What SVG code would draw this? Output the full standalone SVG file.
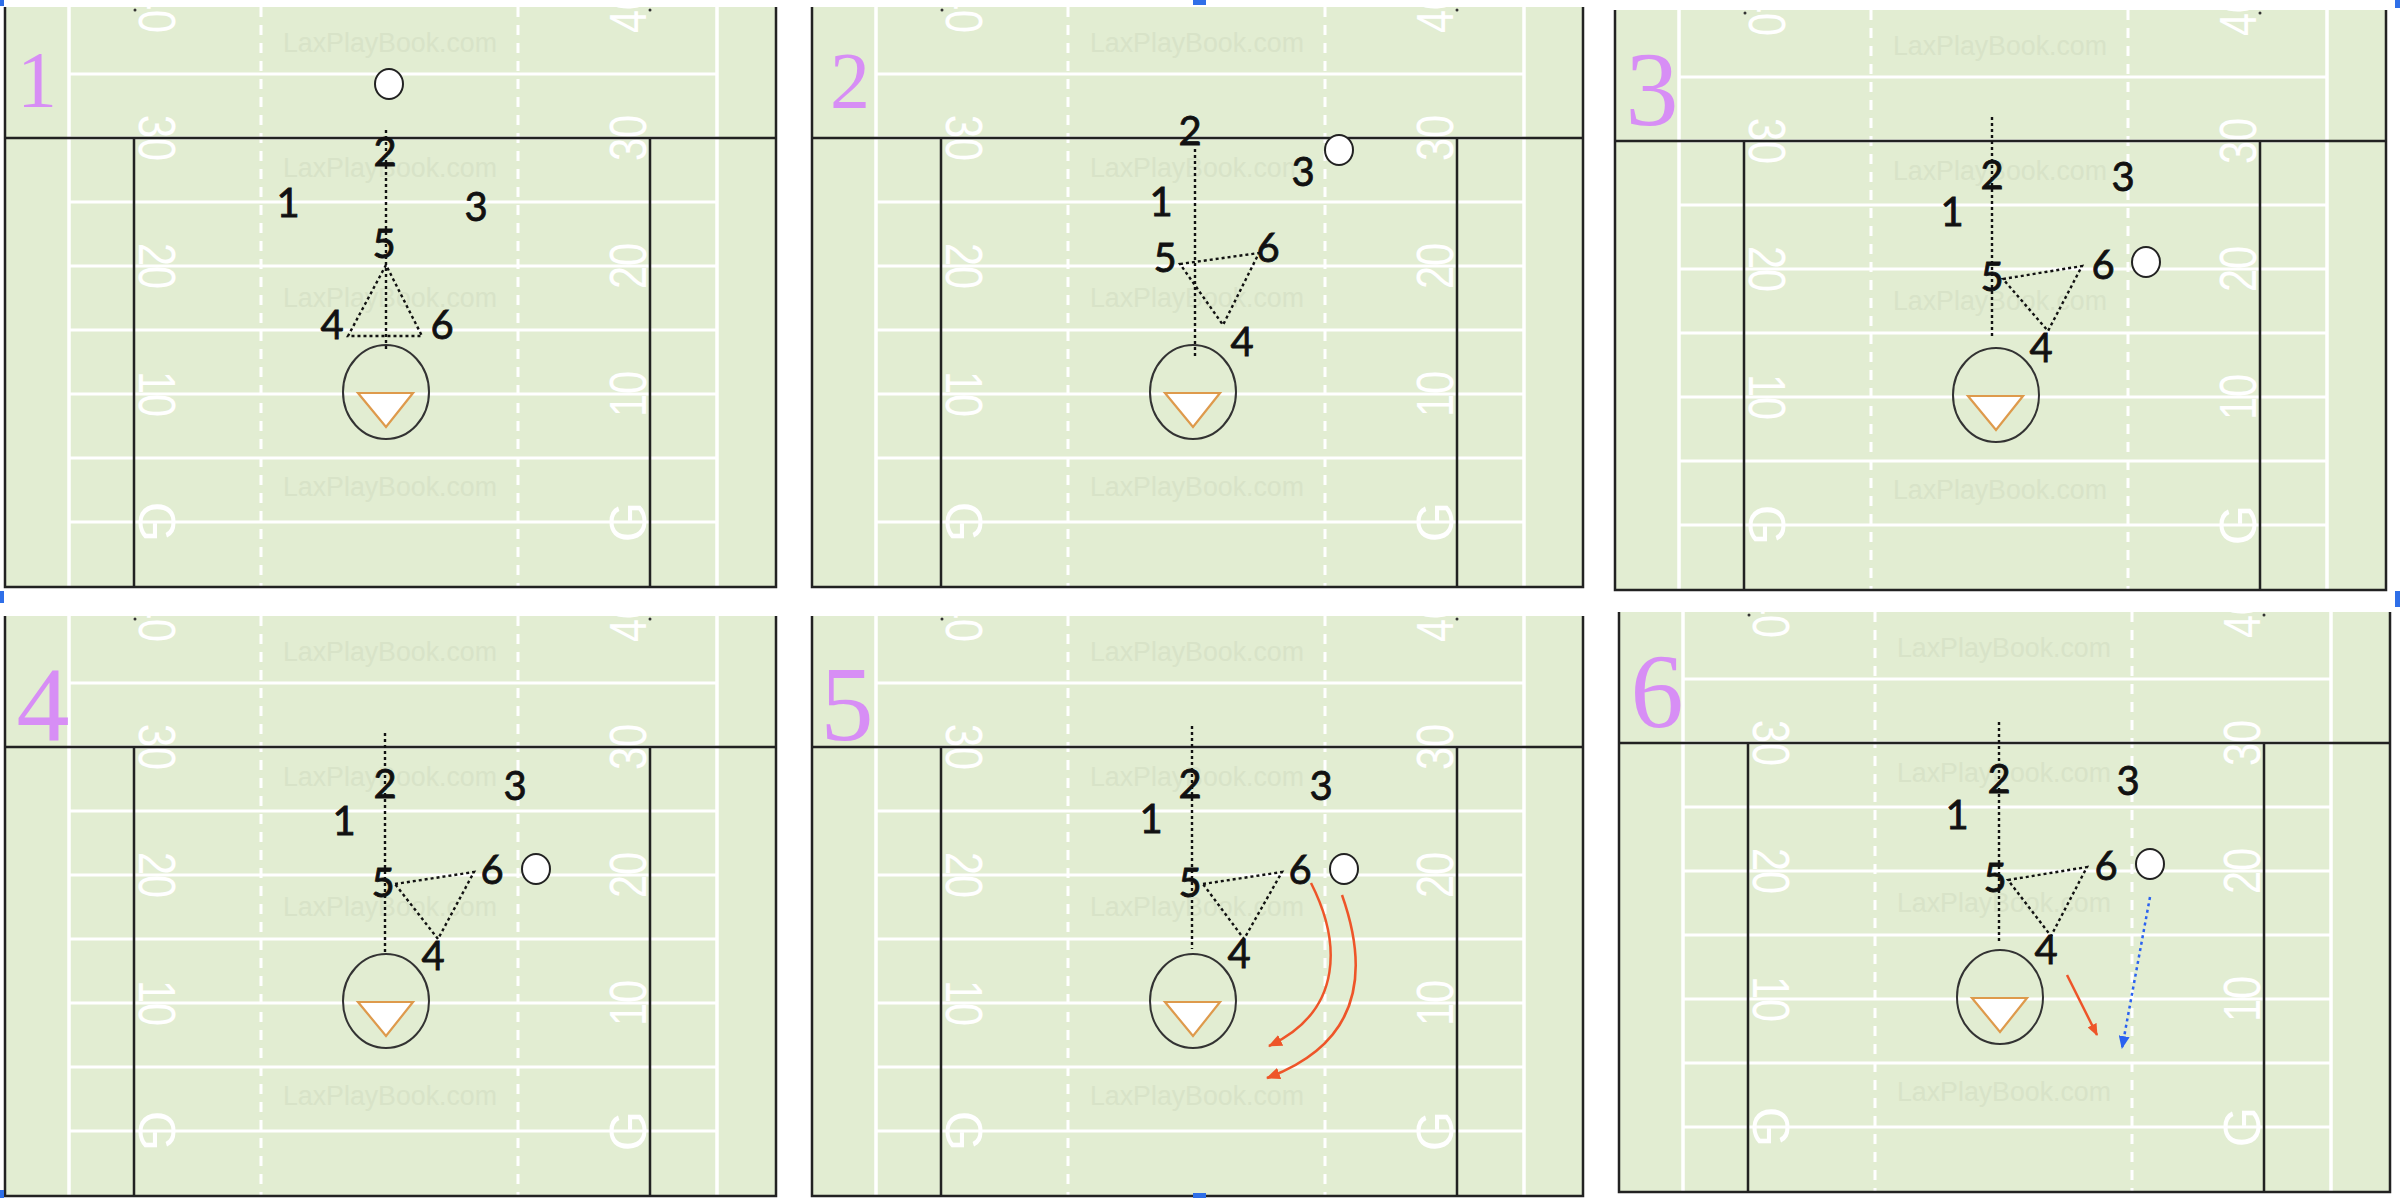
<svg xmlns="http://www.w3.org/2000/svg" xmlns:xlink="http://www.w3.org/1999/xlink" width="2400" height="1198" viewBox="0 0 2400 1198">
<defs>
<style>
.grass{fill:#e2edd2}
.wl{stroke:#ffffff;stroke-width:3.5;fill:none}
.wh{stroke:#ffffff;stroke-width:3;fill:none}
.wd{stroke:#ffffff;stroke-width:3;stroke-dasharray:10 8;fill:none}
.bl{stroke:#222222;stroke-width:2.5;fill:none}
.yd{font-family:"Liberation Sans","DejaVu Sans",sans-serif;font-size:52px;fill:#ffffff;text-anchor:middle}
.wm{font-family:"Liberation Sans","DejaVu Sans",sans-serif;font-size:27px;fill:#d8e3c8;text-anchor:middle}
.crease{fill:none;stroke:#333333;stroke-width:2}
.goal{fill:#ffffff;stroke:#de9a4c;stroke-width:2.2}
.step{font-family:"Liberation Serif","DejaVu Serif",serif;fill:#d78ef5;text-anchor:middle}
.pl{font-family:Lato,"Open Sans",sans-serif;font-size:40px;fill:#111111;stroke:#111111;stroke-width:0.8;text-anchor:middle}
.ball{fill:#ffffff;stroke:#222222;stroke-width:2}
.dot{stroke:#111111;stroke-width:2.4;stroke-dasharray:3 3;fill:none}
.run{stroke:#ee5529;stroke-width:2.5;fill:none}
.pass{stroke:#2a62f0;stroke-width:2.5;stroke-dasharray:3 3.5;fill:none}
</style>
<clipPath id="fieldClip"><rect x="5" y="7" width="771" height="580"/></clipPath>
<marker id="redHead" markerUnits="userSpaceOnUse" viewBox="0 0 14 12" markerWidth="14" markerHeight="12" refX="13" refY="6" orient="auto"><path d="M0,0 L14,6 L0,12 z" fill="#ee5529"/></marker>
<marker id="redHeadS" markerUnits="userSpaceOnUse" viewBox="0 0 12 10" markerWidth="12" markerHeight="10" refX="11" refY="5" orient="auto"><path d="M0,0 L12,5 L0,10 z" fill="#ee5529"/></marker>
<marker id="blueHead" markerUnits="userSpaceOnUse" viewBox="0 0 13 11" markerWidth="13" markerHeight="11" refX="12" refY="5.5" orient="auto"><path d="M0,0 L13,5.5 L0,11 z" fill="#2a62f0"/></marker>
<g id="field">
<rect class="grass" x="5" y="7" width="771" height="580"/>
<g clip-path="url(#fieldClip)">
<line class="wl" x1="69" y1="7" x2="69" y2="587"/>
<line class="wl" x1="717" y1="7" x2="717" y2="587"/>
<line class="wd" x1="261" y1="7" x2="261" y2="587"/>
<line class="wd" x1="518" y1="7" x2="518" y2="587"/>
<line class="wh" x1="69" y1="74" x2="717" y2="74"/>
<line class="wh" x1="69" y1="138" x2="717" y2="138"/>
<line class="wh" x1="69" y1="202" x2="717" y2="202"/>
<line class="wh" x1="69" y1="266" x2="717" y2="266"/>
<line class="wh" x1="69" y1="330" x2="717" y2="330"/>
<line class="wh" x1="69" y1="394" x2="717" y2="394"/>
<line class="wh" x1="69" y1="458" x2="717" y2="458"/>
<line class="wh" x1="69" y1="522" x2="717" y2="522"/>
<text class="yd" transform="translate(157,10) rotate(90)" y="18" textLength="46" lengthAdjust="spacingAndGlyphs">40</text>
<text class="yd" transform="translate(157,138) rotate(90)" y="18" textLength="46" lengthAdjust="spacingAndGlyphs">30</text>
<text class="yd" transform="translate(157,266) rotate(90)" y="18" textLength="46" lengthAdjust="spacingAndGlyphs">20</text>
<text class="yd" transform="translate(157,394) rotate(90)" y="18" textLength="46" lengthAdjust="spacingAndGlyphs">10</text>
<text class="yd" transform="translate(157,522) rotate(90)" y="18">G</text>
<text class="yd" transform="translate(628,10) rotate(-90)" y="18" textLength="46" lengthAdjust="spacingAndGlyphs">40</text>
<text class="yd" transform="translate(628,138) rotate(-90)" y="18" textLength="46" lengthAdjust="spacingAndGlyphs">30</text>
<text class="yd" transform="translate(628,266) rotate(-90)" y="18" textLength="46" lengthAdjust="spacingAndGlyphs">20</text>
<text class="yd" transform="translate(628,394) rotate(-90)" y="18" textLength="46" lengthAdjust="spacingAndGlyphs">10</text>
<text class="yd" transform="translate(628,522) rotate(-90)" y="18">G</text>
<text class="wm" x="390" y="52" textLength="214" lengthAdjust="spacingAndGlyphs">LaxPlayBook.com</text>
<text class="wm" x="390" y="177" textLength="214" lengthAdjust="spacingAndGlyphs">LaxPlayBook.com</text>
<text class="wm" x="390" y="307" textLength="214" lengthAdjust="spacingAndGlyphs">LaxPlayBook.com</text>
<text class="wm" x="390" y="496" textLength="214" lengthAdjust="spacingAndGlyphs">LaxPlayBook.com</text>
</g>
<line class="bl" x1="5" y1="138" x2="776" y2="138"/>
<line class="bl" x1="134" y1="138" x2="134" y2="587"/>
<line class="bl" x1="650" y1="138" x2="650" y2="587"/>
<path class="bl" d="M5,7 V587 H776 V7"/>
<circle cx="135" cy="10" r="1.5" fill="#333"/>
<circle cx="650" cy="10" r="1.5" fill="#333"/>
<ellipse class="crease" cx="386" cy="392" rx="43" ry="47"/>
<path class="goal" d="M358,393 H413 L386,427 z"/>
</g>
</defs>
<rect width="2400" height="1198" fill="#ffffff"/>

<g id="panel-1">
<use xlink:href="#field" href="#field"/>
<text class="step" x="37" y="107" font-size="80">1</text>
<g id="p1-connectors">
<line class="dot" x1="386" y1="130" x2="386" y2="350"/>
<path class="dot" d="M386,265 L348,336 L422,336 z"/>
</g>
<g id="p1-ball"><ellipse class="ball" cx="389" cy="84" rx="14" ry="15"/></g>
<g id="p1-a2"><text class="pl" x="385" y="166">2</text></g>
<g id="p1-a1"><text class="pl" x="288" y="217">1</text></g>
<g id="p1-a3"><text class="pl" x="476" y="221">3</text></g>
<g id="p1-d5"><text class="pl" x="384" y="258">5</text></g>
<g id="p1-d4"><text class="pl" x="332" y="339">4</text></g>
<g id="p1-d6"><text class="pl" x="442" y="339">6</text></g>
</g>

<g id="panel-2" transform="translate(807,0)">
<use xlink:href="#field" href="#field"/>
<text class="step" x="43" y="108" font-size="80">2</text>
<g id="p2-connectors">
<line class="dot" x1="388" y1="149" x2="388" y2="356"/>
<path class="dot" d="M373,264 L452,253 L416,325 z"/>
</g>
<g id="p2-ball"><ellipse class="ball" cx="532" cy="150" rx="14" ry="15"/></g>
<g id="p2-a2"><text class="pl" x="383" y="145">2</text></g>
<g id="p2-a3"><text class="pl" x="496" y="186">3</text></g>
<g id="p2-a1"><text class="pl" x="354" y="216">1</text></g>
<g id="p2-d5"><text class="pl" x="358" y="272">5</text></g>
<g id="p2-d6"><text class="pl" x="461" y="262">6</text></g>
<g id="p2-d4"><text class="pl" x="435" y="356">4</text></g>
</g>

<g id="panel-3" transform="translate(1610,3)">
<use xlink:href="#field" href="#field"/>
<text class="step" x="42" y="122" font-size="106">3</text>
<g id="p3-connectors">
<line class="dot" x1="382" y1="114" x2="382" y2="336"/>
<path class="dot" d="M393,276 L472,263 L438,328 z"/>
</g>
<g id="p3-ball"><ellipse class="ball" cx="536" cy="259" rx="14" ry="15"/></g>
<g id="p3-a2"><text class="pl" x="382" y="186">2</text></g>
<g id="p3-a3"><text class="pl" x="513" y="188">3</text></g>
<g id="p3-a1"><text class="pl" x="342" y="223">1</text></g>
<g id="p3-d5"><text class="pl" x="382" y="288">5</text></g>
<g id="p3-d6"><text class="pl" x="493" y="276">6</text></g>
<g id="p3-d4"><text class="pl" x="431" y="359">4</text></g>
</g>

<g id="panel-4" transform="translate(0,609)">
<use xlink:href="#field" href="#field"/>
<text class="step" x="43" y="131" font-size="106">4</text>
<g id="p4-connectors">
<line class="dot" x1="385" y1="124" x2="385" y2="346"/>
<path class="dot" d="M395,275 L474,263 L438,330 z"/>
</g>
<g id="p4-ball"><ellipse class="ball" cx="536" cy="260" rx="14" ry="15"/></g>
<g id="p4-a2"><text class="pl" x="385" y="189">2</text></g>
<g id="p4-a3"><text class="pl" x="515" y="191">3</text></g>
<g id="p4-a1"><text class="pl" x="344" y="226">1</text></g>
<g id="p4-d5"><text class="pl" x="383" y="288">5</text></g>
<g id="p4-d6"><text class="pl" x="492" y="275">6</text></g>
<g id="p4-d4"><text class="pl" x="433" y="361">4</text></g>
</g>

<g id="panel-5" transform="translate(807,609)">
<use xlink:href="#field" href="#field"/>
<text class="step" x="40" y="131" font-size="106">5</text>
<g id="p5-connectors">
<line class="dot" x1="385" y1="117" x2="385" y2="340"/>
<path class="dot" d="M396,275 L475,263 L437,330 z"/>
<path class="run" d="M504,274 C533,331 538,401 462,437" marker-end="url(#redHead)"/>
<path class="run" d="M535,286 C558,351 563,431 460,469" marker-end="url(#redHead)"/>
</g>
<g id="p5-ball"><ellipse class="ball" cx="537" cy="260" rx="14" ry="15"/></g>
<g id="p5-a2"><text class="pl" x="383" y="189">2</text></g>
<g id="p5-a3"><text class="pl" x="514" y="191">3</text></g>
<g id="p5-a1"><text class="pl" x="344" y="224">1</text></g>
<g id="p5-d5"><text class="pl" x="383" y="288">5</text></g>
<g id="p5-d6"><text class="pl" x="493" y="275">6</text></g>
<g id="p5-d4"><text class="pl" x="432" y="359">4</text></g>
</g>

<g id="panel-6" transform="translate(1614,605)">
<use xlink:href="#field" href="#field"/>
<text class="step" x="43" y="122" font-size="106">6</text>
<g id="p6-connectors">
<line class="dot" x1="385" y1="117" x2="385" y2="336"/>
<path class="dot" d="M394,275 L473,262 L437,331 z"/>
<line class="run" x1="453" y1="370" x2="483" y2="430" marker-end="url(#redHeadS)"/>
<line class="pass" x1="536" y1="292" x2="508" y2="443" marker-end="url(#blueHead)"/>
</g>
<g id="p6-ball"><ellipse class="ball" cx="536" cy="259" rx="14" ry="15"/></g>
<g id="p6-a2"><text class="pl" x="385" y="188">2</text></g>
<g id="p6-a3"><text class="pl" x="514" y="190">3</text></g>
<g id="p6-a1"><text class="pl" x="343" y="224">1</text></g>
<g id="p6-d5"><text class="pl" x="381" y="287">5</text></g>
<g id="p6-d6"><text class="pl" x="492" y="275">6</text></g>
<g id="p6-d4"><text class="pl" x="432" y="359">4</text></g>
</g>

<g id="selection-handles" fill="#2f6fe8">
<rect x="0" y="0" width="4" height="6"/>
<rect x="1193" y="0" width="13" height="5"/>
<rect x="2395" y="0" width="5" height="8"/>
<rect x="0" y="591" width="4" height="12"/>
<rect x="2395" y="591" width="5" height="16"/>
<rect x="0" y="1190" width="4" height="8"/>
<rect x="1193" y="1193" width="13" height="5"/>
</g>
</svg>
